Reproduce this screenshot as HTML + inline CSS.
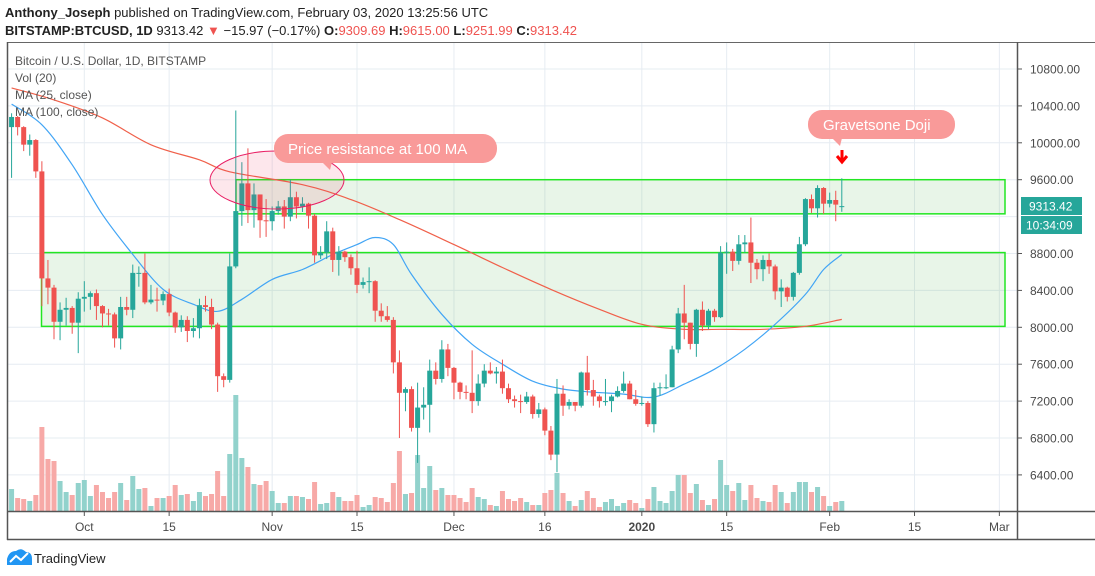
<!DOCTYPE html>
<html><head><meta charset="utf-8"><style>
body{margin:0;width:1095px;height:576px;background:#fff;overflow:hidden;font-family:"Liberation Sans",sans-serif}
svg{position:absolute;left:0;top:0}
</style></head><body>
<svg id="c" width="1095" height="576" xmlns="http://www.w3.org/2000/svg"></svg>
<script>
const dayLabels=["Oct","15","Nov","15","Dec","16","2020","15","Feb","15","Mar"];
const dayIdx=[12,26,43,57,73,88,104,118,135,149,163];
const priceTicks=[10800,10400,10000,9600,8800,8400,8000,7600,7200,6800,6400];
const opens=[10170,10280,10170,9980,10030,9690,8530,8430,8060,8190,8210,8050,8310,8330,8370,8230,8150,8140,7880,8220,8190,8590,8590,8270,8300,8290,8360,8160,8000,8080,7960,7990,8240,8220,8030,7470,7430,8660,9260,9560,9270,9440,9160,9150,9260,9310,9200,9410,9310,9340,9210,8780,8810,9040,8730,8820,8760,8640,8460,8490,8500,8180,8120,8080,7620,7290,7330,6910,7130,7160,7530,7440,7760,7560,7400,7300,7290,7200,7390,7530,7500,7520,7340,7220,7200,7190,7250,7060,7110,6880,6620,7280,7150,7190,7150,7510,7320,7250,7200,7200,7250,7310,7390,7220,7170,7180,6950,7340,7350,7350,7760,8150,8050,7820,8190,8020,8180,8110,8810,8820,8720,8900,8920,8700,8630,8730,8660,8390,8430,8330,8590,8900,9390,9290,9510,9340,9380,9310];
const highs=[10320,10290,10180,10090,10040,9800,8730,8460,8270,8320,8230,8380,8500,8390,8410,8240,8200,8160,8330,8330,8680,8660,8800,8460,8430,8390,8420,8170,8130,8120,8100,8310,8340,8310,8050,7500,8800,10350,9790,9940,9560,9440,9390,9310,9370,9380,9600,9470,9410,9350,9230,8880,9150,9080,8880,8830,8790,8830,8540,8650,8510,8260,8230,8110,7750,7350,7360,7400,7350,7650,7620,7860,7820,7570,7410,7370,7750,7490,7600,7620,7570,7650,7390,7260,7270,7300,7270,7180,7130,6930,7440,7370,7220,7190,7520,7690,7430,7270,7440,7270,7360,7520,7420,7320,7250,7200,7400,7400,7490,7800,8210,8460,8050,8200,8280,8200,8200,8880,8920,8850,9000,9000,9190,8740,8780,8800,8680,8520,8440,8600,8980,9400,9440,9540,9520,9460,9480,9615];
const lows=[9620,10080,9910,9860,9620,8230,8250,7870,7860,8020,7930,7720,8170,8190,8080,8000,8020,7780,7760,8130,8100,8440,8250,8250,8170,8240,8120,7940,7950,7840,7890,7880,8170,7980,7300,7350,7400,8640,9100,9130,9080,8970,8980,9050,9220,9070,9150,9180,9250,9070,8700,8740,8740,8600,8560,8710,8570,8370,8420,8370,8060,8060,8060,7500,6800,7090,6870,6530,7000,6860,7380,7400,7470,7220,7220,7220,7070,7150,7350,7490,7390,7280,7180,7130,7070,7170,7010,7020,6830,6560,6430,7040,7110,7090,7130,7260,7150,7130,7150,7080,7240,7290,7220,7150,7150,6920,6860,7260,7330,7350,7720,7870,7760,7680,7960,7980,8060,8100,8580,8610,8680,8810,8480,8520,8500,8580,8300,8220,8280,8290,8570,8880,9240,9190,9230,9300,9150,9252];
const closes=[10280,10170,9980,10030,9690,8530,8430,8060,8190,8210,8050,8310,8330,8370,8230,8150,8140,7880,8220,8190,8590,8590,8270,8300,8290,8360,8160,8000,8080,7960,7990,8240,8220,8030,7470,7430,8660,9260,9560,9270,9440,9160,9150,9260,9310,9200,9410,9310,9340,9210,8780,8810,9040,8730,8820,8760,8640,8460,8490,8500,8180,8120,8080,7620,7290,7330,6910,7130,7160,7530,7440,7760,7560,7400,7300,7290,7200,7390,7530,7500,7520,7340,7220,7200,7190,7250,7060,7110,6880,6620,7280,7150,7190,7150,7510,7320,7250,7200,7200,7250,7310,7390,7220,7170,7180,6950,7340,7350,7350,7760,8150,8050,7820,8190,8020,8180,8110,8810,8820,8720,8900,8920,8700,8630,8730,8660,8390,8430,8330,8590,8900,9390,9290,9510,9340,9380,9330,9313.42];
const volumes=[22,13,12,10,16,84,52,50,30,19,16,28,31,15,26,19,13,19,28,11,35,22,23,5,13,13,15,26,16,17,10,19,15,17,40,15,57,116,53,44,27,26,30,20,8,8,15,15,14,12,29,7,8,19,14,10,10,16,4,6,14,13,9,28,60,17,18,56,23,45,21,23,16,16,13,9,23,14,12,6,5,20,12,10,13,9,6,6,18,21,38,18,10,5,11,20,13,4,9,12,5,8,11,8,3,12,24,10,8,20,36,36,18,27,11,6,12,51,26,20,28,11,26,13,10,9,26,19,8,19,29,29,19,24,15,5,9,10];
const ma25Days=[0,5,10,15,20,25,30,34,38,43,48,53,57,60,63,66,71,76,81,86,91,96,101,106,111,116,121,126,131,134,137];
const ma25Vals=[10420,10195,9762,9222,8789,8411,8249,8173,8303,8519,8627,8789,8897,8973,8897,8573,8141,7816,7600,7416,7330,7297,7276,7243,7384,7546,7762,8032,8357,8627,8789];
const ma100Days=[0,7,15,23,31,36,48,56,64,73,81,89,97,104,111,117,124,131,137];
const ma100Vals=[10595,10465,10270,9978,9816,9686,9546,9384,9168,8897,8648,8411,8195,8032,7978,7978,7978,8011,8086];

const NS="http://www.w3.org/2000/svg";
const svg=document.getElementById('c');
function X(i){return 84.3+(i-12)*6.06;}
function Y(p){return 327.3-(p-8000)*36.9/400;}
function V(v){return 511-v;}
function mk(tag,attrs,parent){const e=document.createElementNS(NS,tag);for(const k in attrs)e.setAttribute(k,attrs[k]);(parent||svg).appendChild(e);return e;}
function txt(s,attrs,parent){const e=mk('text',attrs,parent);e.textContent=s;return e;}

// grid
const grid=mk('g',{});


for(let p=6400;p<=10800;p+=400){mk('line',{x1:8,x2:1017,y1:Y(p),y2:Y(p),stroke:'#e6ecf2','stroke-width':1},grid);}
dayIdx.forEach(i=>{mk('line',{x1:X(i),x2:X(i),y1:42,y2:511,stroke:'#e6ecf2','stroke-width':1},grid);});

// volume
const vg=mk('g',{});


volumes.forEach((v,i)=>{const up=closes[i]>=opens[i];const r=mk('rect',{x:X(i)-2.5,y:V(v),width:5,height:511-V(v),fill:up?'#92d2cc':'#f7a9a7'},vg);

});

// boxes
const b1=mk('rect',{x:236,y:Y(9600),width:769,height:Y(9230)-Y(9600),fill:'rgba(76,175,80,0.13)',stroke:'#22e622','stroke-width':1.5});


const b2=mk('rect',{x:41.5,y:Y(8810),width:963.5,height:Y(8010)-Y(8810),fill:'rgba(76,175,80,0.13)',stroke:'#22e622','stroke-width':1.5});



// MA lines (smoothed through read points)
function maPath(days,vals,color,name){
const pts=days.map((dd,k)=>[X(dd),Y(vals[k])]);
let d='M'+pts[0][0].toFixed(1)+','+pts[0][1].toFixed(1);
for(let k=0;k<pts.length-1;k++){const p0=pts[Math.max(0,k-1)],p1=pts[k],p2=pts[k+1],p3=pts[Math.min(pts.length-1,k+2)];
const c1x=p1[0]+(p2[0]-p0[0])/6,c1y=p1[1]+(p2[1]-p0[1])/6,c2x=p2[0]-(p3[0]-p1[0])/6,c2y=p2[1]-(p3[1]-p1[1])/6;
d+=' C'+c1x.toFixed(1)+','+c1y.toFixed(1)+' '+c2x.toFixed(1)+','+c2y.toFixed(1)+' '+p2[0].toFixed(1)+','+p2[1].toFixed(1);}
const p=mk('path',{d:d,fill:'none',stroke:color,'stroke-width':1.2});

}
maPath(ma100Days,ma100Vals,'#f0604a','ma-100-line');
maPath(ma25Days,ma25Vals,'#42a5f5','ma-25-line');

// candles
const cg=mk('g',{});


closes.forEach((c,i)=>{const o=opens[i];const up=c>=o;const col=up?'#26a69a':'#ef5350';const x=X(i);
mk('line',{x1:x,x2:x,y1:Y(highs[i]),y2:Y(lows[i]),stroke:col,'stroke-width':1},cg);
const top=Y(Math.max(o,c)),bot=Y(Math.min(o,c));
const r=mk('rect',{x:x-2.5,y:top,width:5,height:Math.max(1,bot-top),fill:col},cg);

});

// ellipse & callouts
const el=mk('ellipse',{cx:277,cy:180,rx:67,ry:29,fill:'rgba(242,54,100,0.12)',stroke:'#e91e63','stroke-width':1});


const c1=mk('g',{});


mk('rect',{x:274,y:134,width:223,height:29,rx:14,fill:'#f99a99'},c1);
mk('path',{d:'M322,162 L332,162 L330,170 Z',fill:'#f99a99'},c1);
txt('Price resistance at 100 MA',{x:288,y:154,fill:'#fff','font-size':15},c1);
const c2=mk('g',{});


mk('rect',{x:808,y:110,width:147,height:29,rx:14,fill:'#f99a99'},c2);
mk('path',{d:'M832,138 L842,138 L840,146 Z',fill:'#f99a99'},c2);
txt('Gravetsone Doji',{x:823,y:130,fill:'#fff','font-size':15},c2);
const ar=mk('path',{d:'M842,150 L842,160 M837,156 L842,162 L847,156',stroke:'#f00','stroke-width':3,fill:'none'});



// frame & axes
mk('line',{x1:7,x2:1095,y1:42.5,y2:42.5,stroke:'#666','stroke-width':1});
mk('line',{x1:7.5,x2:7.5,y1:42,y2:540,stroke:'#555','stroke-width':1.5});
mk('line',{x1:7,x2:1095,y1:511.5,y2:511.5,stroke:'#555','stroke-width':1.5});
mk('line',{x1:7,x2:1095,y1:539.5,y2:539.5,stroke:'#555','stroke-width':1.5});
mk('line',{x1:1017.5,x2:1017.5,y1:42,y2:540,stroke:'#555','stroke-width':1.5});

const ya=mk('g',{});


priceTicks.forEach(p=>{mk('line',{x1:1017,x2:1022,y1:Y(p),y2:Y(p),stroke:'#555'},ya);
txt(p.toFixed(2),{x:1030,y:Y(p)+4.5,fill:'#4a4a4a','font-size':12},ya);});
const xa=mk('g',{});


dayLabels.forEach((s,k)=>{mk('line',{x1:X(dayIdx[k]),x2:X(dayIdx[k]),y1:511,y2:516,stroke:'#555'},xa);
txt(s,{x:X(dayIdx[k]),y:531,fill:'#4a4a4a','font-size':12,'text-anchor':'middle','font-weight':s==='2020'?'bold':'normal'},xa);});

// last price labels
const lp=mk('g',{});


mk('rect',{x:1021,y:197,width:61,height:18,fill:'#26a69a'},lp);
txt('9313.42',{x:1029,y:210.5,fill:'#fff','font-size':12},lp);
mk('rect',{x:1021,y:216,width:61,height:18,fill:'#26a69a'},lp);
txt('10:34:09',{x:1026,y:229.5,fill:'#fff','font-size':12},lp);

// legend
const lg=mk('g',{});


txt('Bitcoin / U.S. Dollar, 1D, BITSTAMP',{x:15,y:65,fill:'#555','font-size':12},lg);
txt('Vol (20)',{x:15,y:82,fill:'#555','font-size':12},lg);
txt('MA (25, close)',{x:15,y:99,fill:'#555','font-size':12},lg);
txt('MA (100, close)',{x:15,y:116,fill:'#555','font-size':12},lg);

// header
const h=mk('g',{});


const t1=txt('',{x:5,y:17,fill:'#222','font-size':13},h);
t1.innerHTML='<tspan font-weight="bold">Anthony_Joseph</tspan> published on TradingView.com, February 03, 2020 13:25:56 UTC';
const t2=txt('',{x:5,y:35,fill:'#222','font-size':13},h);
t2.innerHTML='<tspan font-weight="bold">BITSTAMP:BTCUSD, 1D</tspan> 9313.42 <tspan fill="#ef5350">▼</tspan> −15.97 (−0.17%) <tspan font-weight="bold">O:</tspan><tspan fill="#ef5350">9309.69</tspan> <tspan font-weight="bold">H:</tspan><tspan fill="#ef5350">9615.00</tspan> <tspan font-weight="bold">L:</tspan><tspan fill="#ef5350">9251.99</tspan> <tspan font-weight="bold">C:</tspan><tspan fill="#ef5350">9313.42</tspan>';

// footer logo
const f=mk('g',{});


mk('path',{d:'M7,565 L7,559 Q9,551 16,551 Q21,547 26,552 Q32,552 32,559 L32,565 Z',fill:'#2196f3'},f);
mk('path',{d:'M10,562 L16,556 L21,560 L28,553',stroke:'#fff','stroke-width':2,fill:'none'},f);
txt('TradingView',{x:34,y:563,fill:'#222','font-size':13},f);
</script>
</body></html>
